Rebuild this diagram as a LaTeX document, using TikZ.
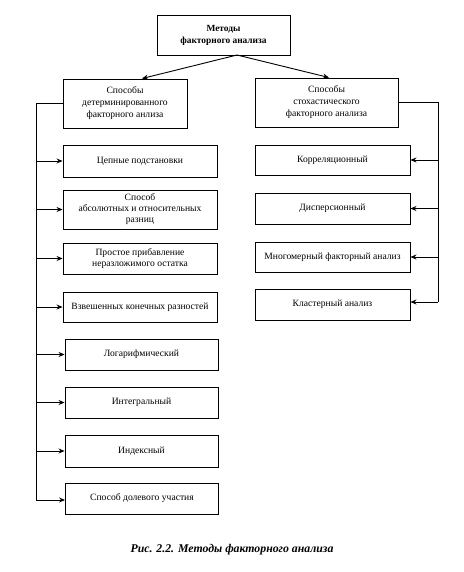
\documentclass[tikz,border=0pt]{standalone}
\usepackage{fontspec}
\setmainfont{Liberation Serif}
\usetikzlibrary{arrows.meta}
\begin{document}
\begin{tikzpicture}[x=1pt,y=-1pt,
  box/.style={draw,line width=0.9pt,align=center,inner sep=1pt,font=\fontsize{9.6}{11}\selectfont},
  conn/.style={line width=0.9pt,-{Stealth[length=6pt,width=5pt]}},
  bus/.style={line width=0.9pt}]
\useasboundingbox (0,0) rectangle (463,572);
% top
\node[box,minimum width=133pt,minimum height=40pt,font=\fontsize{9.4}{12}\selectfont\bfseries] (top) at (223.5,35) {Методы\\факторного анализа};
\node[box,minimum width=124pt,minimum height=49pt,font=\fontsize{9.6}{12}\selectfont] (det) at (125,103.5) {Способы\\детерминированного\\факторного анлиза};
\node[box,minimum width=143pt,minimum height=49pt,font=\fontsize{9.6}{12}\selectfont] (sto) at (326.5,102.5) {Способы\\стохастического\\факторного анализа};
\coordinate (tb) at (237,55);
\draw[conn] (tb) -- (det.north -| 142,0);
\draw[conn] (tb) -- (sto.north -| 329,0);
% left
\node[box,minimum width=154pt,minimum height=32pt] (l1) at (140,161) {Цепные подстановки};
\node[box,minimum width=154pt,minimum height=39pt] (l2) at (140,209.5) {Способ\\абсолютных и относительных\\разниц};
\node[box,minimum width=154pt,minimum height=31pt] (l3) at (140,258.5) {Простое прибавление\\неразложимого остатка};
\node[box,minimum width=154pt,minimum height=30pt] (l4) at (140,307) {Взвешенных конечных разностей};
\node[box,minimum width=153pt,minimum height=31pt] (l5) at (141.5,354.5) {Логарифмический};
\node[box,minimum width=153pt,minimum height=31pt] (l6) at (141.5,402.5) {Интегральный};
\node[box,minimum width=153pt,minimum height=32pt] (l7) at (141.5,451) {Индексный};
\node[box,minimum width=153pt,minimum height=31pt] (l8) at (142,498.5) {Способ долевого участия};
\coordinate (lt) at (36,103);
\coordinate (lb) at (36,500);
\draw[bus] (det.west |- lt) -- (lt) -- (lb);
\foreach \n in {l1,l2,l3,l4,l5,l6,l7} \draw[conn] (lt |- \n.west) -- (\n.west);
\draw[conn] (lb) -- (l8.west |- lb);
% right
\node[box,minimum width=155pt,minimum height=30pt] (r1) at (332.5,160) {Корреляционный};
\node[box,minimum width=155pt,minimum height=31pt] (r2) at (332.5,208.5) {Дисперсионный};
\node[box,minimum width=155pt,minimum height=30pt] (r3) at (332.5,257) {Многомерный факторный анализ};
\node[box,minimum width=155pt,minimum height=31pt] (r4) at (332.5,304.5) {Кластерный анализ};
\coordinate (rt) at (438,102);
\coordinate (rb) at (438,302);
\draw[bus] (sto.east |- rt) -- (rt) -- (rb);
\foreach \n in {r1,r2,r3} \draw[conn] (rt |- \n.east) -- (\n.east);
\draw[conn] (rb) -- (r4.east |- rb);
% caption
\node[font=\fontsize{11.8}{13}\selectfont\bfseries\itshape] (cap) at (232,550) {Рис. 2.2. Методы факторного анализа};
\end{tikzpicture}
\end{document}
